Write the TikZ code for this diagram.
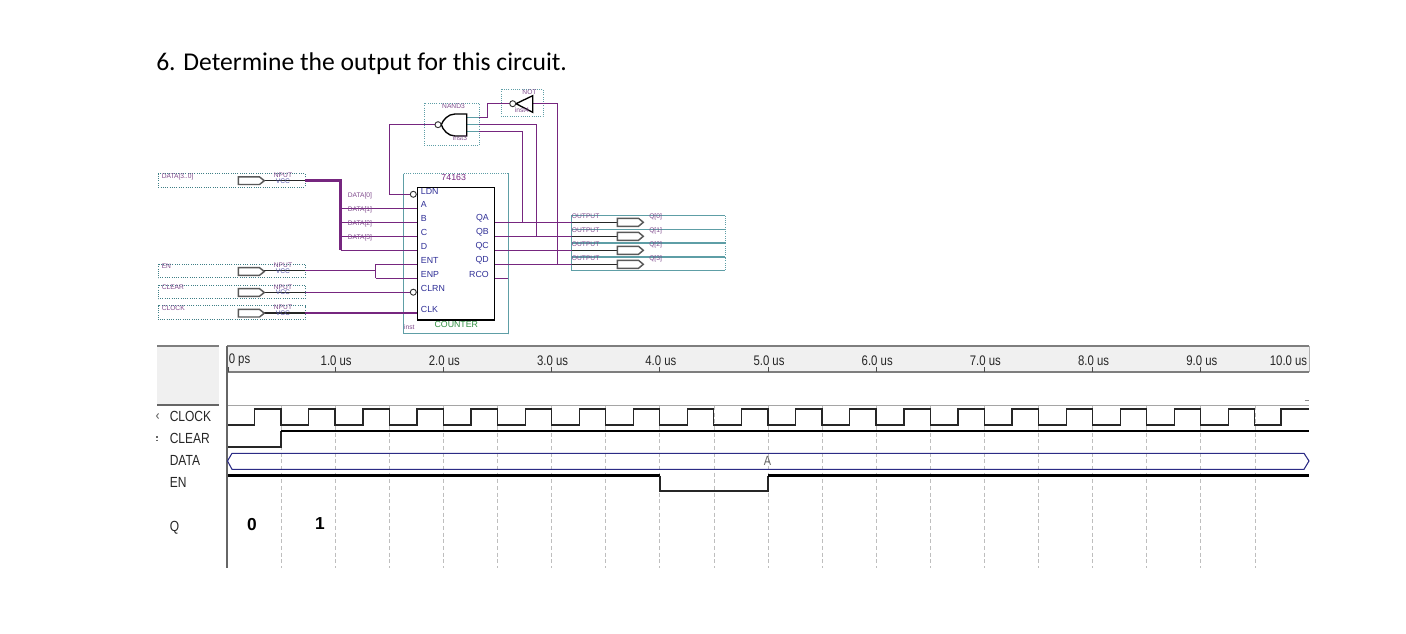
\documentclass[tikz,border=0pt]{standalone}
\usepackage{fontspec}
\setmainfont{Liberation Sans}
\newfontfamily\titlefont{Carlito}
\newfontfamily\wavefont[FakeStretch=0.82]{Liberation Sans}
\definecolor{wire}{HTML}{76267F}
\definecolor{tealbox}{HTML}{5E9EA6}
\definecolor{darkdot}{HTML}{3F7F86}
\definecolor{pinblue}{HTML}{2E2E96}
\definecolor{small}{HTML}{7F4A8C}
\definecolor{navy}{HTML}{2B2B85}
\definecolor{green2}{HTML}{2F8F3F}
\definecolor{headbg}{HTML}{F0F0F0}
\definecolor{headln}{HTML}{7E7E7E}
\definecolor{gridc}{HTML}{BEBEBE}
\tikzset{
  wirel/.style={draw=wire,line width=0.95pt},
  busl/.style={draw=wire,line width=2.4pt},
  blackl/.style={draw=black!85,line width=0.9pt},
  tealw/.style={draw=tealbox,line width=0.9pt},
  gatel/.style={draw=black,line width=1pt,fill=white},
  bub/.style={draw=black!80,line width=0.7pt,fill=white},
  pinl/.style={draw=black!65,line width=1.1pt,fill=white},
  dotbox/.style={draw=tealbox,line width=0.65pt,densely dotted},
  dotboxd/.style={draw=darkdot,line width=0.7pt,densely dotted},
  lbl/.style={inner sep=0pt,text=small,font=\fontsize{5}{5.5}\selectfont},
  vcc/.style={inner sep=0pt,text=pinblue!80,font=\fontsize{5}{5.5}\selectfont},
  pinlab/.style={inner sep=0pt,text=pinblue,font=\fontsize{6.6}{7}\selectfont},
  wave/.style={draw=black!85,line width=0.95pt},
  wavethick/.style={draw=black,line width=1.9pt},
  wavelab/.style={inner sep=0pt,anchor=west,text=black!85,font=\wavefont\fontsize{11}{12}\selectfont},
  headlab/.style={inner sep=0pt,text=black!85,font=\wavefont\fontsize{10.4}{12}\selectfont},
  val/.style={inner sep=0pt,font=\bfseries\fontsize{13}{14}\selectfont}
}
\begin{document}
\begin{tikzpicture}[x=0.75pt,y=-0.75pt]
\useasboundingbox (0,0) rectangle (1406,634);
% Title
\node[inner sep=0pt,anchor=base west,font=\titlefont\fontsize{19.2}{21}\selectfont] (title) at (156,71) {6. Determine the output for this circuit.};

% ---------- schematic: boxes
\draw[dotboxd] (158,173.7) rectangle (305,187);
\draw[dotboxd] (158,264) rectangle (305,277.7);
\draw[dotboxd] (158,285) rectangle (305,298.7);
\draw[dotboxd] (158,305.7) rectangle (305,319.7);
\draw[dotbox] (424.3,103.3) rectangle (479.3,145);
\draw[dotbox] (501.7,89.3) rectangle (543,116.7);
\draw[dotbox] (403.3,173.7) rectangle (508,333.7);
\draw[tealbox,line width=0.7pt] (403.3,173.7) -- (403.3,333.7) -- (508,333.7) -- (508,173.7);
\foreach \a/\b in {215.3/229.3,229.3/243,243/257,257/270.3}{
  \draw[dotbox] (571.7,\a) rectangle (725.3,\b);
}
\foreach \a in {215.3,229.3,243,257,270.3}{
  \draw[tealbox,line width=0.8pt] (571.7,\a) -- (725.3,\a);
}
\draw[tealbox,line width=0.6pt] (571.7,215.3) -- (571.7,270.3);

% ---------- named points
\coordinate (ldn) at (410.3,194.3);
\coordinate (pa) at (417.3,208.3);
\coordinate (pb) at (417.3,222.3);
\coordinate (pc) at (417.3,236.3);
\coordinate (pd) at (417.3,250.3);
\coordinate (pent) at (417.3,264.3);
\coordinate (penp) at (417.3,278.3);
\coordinate (pclrn) at (410.3,292.2);
\coordinate (pclk) at (417.3,313);
\coordinate (qa) at (494.7,222.3);
\coordinate (qb) at (494.7,236.3);
\coordinate (qc) at (494.7,250.3);
\coordinate (qd) at (494.7,264.3);
\coordinate (rco) at (494.7,278.3);
\coordinate (rcoend) at (508,278.3);
\coordinate (ina) at (305,180.7);
\coordinate (inen) at (305,270.7);
\coordinate (incl) at (305,292.2);
\coordinate (inck) at (305,313);
\coordinate (busc) at (340.7,180.7);
\coordinate (busa) at (340.7,208.3);
\coordinate (busb) at (340.7,222.3);
\coordinate (busd) at (340.7,236.3);
\coordinate (buse) at (340.7,250.3);
\coordinate (enj) at (375.7,270.7);
\coordinate (enu) at (375.7,264.3);
\coordinate (end) at (375.7,278.3);
\coordinate (ponr) at (264.3,180.7);
\coordinate (penr) at (264.3,270.7);
\coordinate (pclr) at (264.3,292.2);
\coordinate (pckr) at (264.3,313);
\coordinate (n1) at (466.7,117.7);
\coordinate (n2) at (466.7,124.7);
\coordinate (n3) at (466.7,131.7);
\coordinate (nout) at (435,124.7);
\coordinate (notin) at (532.7,103.7);
\coordinate (notout) at (509.7,103.7);
\coordinate (o1) at (571.7,222.3);
\coordinate (o2) at (571.7,236.3);
\coordinate (o3) at (571.7,250.3);
\coordinate (o4) at (571.7,264.3);
\coordinate (op1) at (617.3,222.3);
\coordinate (op2) at (617.3,236.3);
\coordinate (op3) at (617.3,250.3);
\coordinate (op4) at (617.3,264.3);

% ---------- wires
\draw[blackl] (ponr) -- (ina);
\draw[blackl] (penr) -- (inen);
\draw[blackl] (pclr) -- (incl);
\draw[blackl] (pckr) -- (inck);
\draw[busl] (ina) -- (busc) -- (buse);
\draw[wirel] (busa) -- (pa);
\draw[wirel] (busb) -- (pb);
\draw[wirel] (busd) -- (pc);
\draw[wirel] (buse) -- (pd);
\draw[wirel] (inen) -- (enj);
\draw[wirel] (enu) -- (end);
\draw[wirel] (enu) -- (pent);
\draw[wirel] (end) -- (penp);
\draw[wirel] (incl) -- (pclrn);
\draw[wirel] (inck) -- (pclk);
\draw[wirel] (nout) -| (389.3,194.3) -- (ldn);
\draw[wirel] (n1) -- (487.7,117.7) |- (notout);
\draw[wirel] (n2) -| (536.7,236.3);
\draw[wirel] (n3) -| (522.7,222.3);
\draw[wirel] (notin) -| (557.3,264.3);
\draw[tealw] (n1) -- (479.3,117.7);
\draw[tealw] (n2) -- (479.3,124.7);
\draw[tealw] (n3) -- (479.3,131.7);
\draw[wirel] (qa) -- (o1);
\draw[wirel] (qb) -- (o2);
\draw[wirel] (qc) -- (o3);
\draw[wirel] (qd) -- (o4);
\draw[wirel] (rco) -- (rcoend);
\draw[blackl] (o1) -- (op1);
\draw[blackl] (o2) -- (op2);
\draw[blackl] (o3) -- (op3);
\draw[blackl] (o4) -- (op4);

% ---------- pin symbols
\foreach \y in {180.7,271.5,292.5,313.2}{
  \draw[pinl] (238.3,\y-3.8) -- (259.5,\y-3.8) -- (264.3,\y) -- (259.5,\y+3.8) -- (238.3,\y+3.8) -- cycle;
}
\foreach \y in {222.3,236.3,250.3,264.3}{
  \draw[pinl] (617.3,\y-4) -- (638.5,\y-4) -- (643.3,\y) -- (638.5,\y+4) -- (617.3,\y+4) -- cycle;
}

% ---------- gates
\draw[gatel] (466.7,114) -- (455,114) .. controls (448,114) and (443,120) .. (441.3,124.7) .. controls (443,130) and (448,136) .. (455,136) -- (466.7,136) -- cycle;
\draw[bub] (438,124.7) circle (3);
\draw[gatel] (532.7,95.7) -- (516,103.7) -- (532.7,112.3) -- cycle;
\draw[bub] (512.7,103.7) circle (3);

% ---------- counter
\draw[gatel,fill=none] (417.3,187.3) rectangle (494.7,320);
\draw[bub] (413.3,194.3) circle (3);
\draw[bub] (413.3,292.2) circle (3);

% ---------- schematic text
\node[inner sep=0pt,text=wire,font=\fontsize{6.6}{7}\selectfont] (t74163) at (453.7,177.7) {74163};
\node[inner sep=0pt,text=green2,font=\fontsize{6.6}{7}\selectfont] (tcounter) at (456.3,324.3) {COUNTER};
\node[lbl] (tinst) at (409.3,326.7) {inst};
\node[pinlab,anchor=west] (lLDN) at (420.7,191) {LDN};
\node[pinlab,anchor=west] (lA) at (420.7,204.3) {A};
\node[pinlab,anchor=west] (lB) at (420.7,218.3) {B};
\node[pinlab,anchor=west] (lC) at (420.7,232.5) {C};
\node[pinlab,anchor=west] (lD) at (420.7,246.3) {D};
\node[pinlab,anchor=west] (lENT) at (420.7,260.3) {ENT};
\node[pinlab,anchor=west] (lENP) at (420.7,274.3) {ENP};
\node[pinlab,anchor=west] (lCLRN) at (420.7,288.3) {CLRN};
\node[pinlab,anchor=west] (lCLK) at (420.7,309.3) {CLK};
\node[pinlab,anchor=east] (lQA) at (489,218.3) {QA};
\node[pinlab,anchor=east] (lQB) at (489,232.3) {QB};
\node[pinlab,anchor=east] (lQC) at (489,246.3) {QC};
\node[pinlab,anchor=east] (lQD) at (489,260.3) {QD};
\node[pinlab,anchor=east] (lRCO) at (489,274.3) {RCO};
\node[lbl] (tnand) at (453.5,106) {NAND3};
\node[lbl] (tinst3) at (460,138.5) {inst3};
\node[lbl] (tnot) at (529.5,92) {NOT};
\node[lbl] (tinst4) at (522,110) {inst4};
\node[lbl,anchor=west] (dall) at (161.5,176.5) {DATA[3..0]};
\node[lbl,anchor=west] (den) at (161.5,266.7) {EN};
\node[lbl,anchor=west] (dcl) at (161.5,287) {CLEAR};
\node[lbl,anchor=west] (dck) at (161.5,308) {CLOCK};
\foreach \n/\a/\b in {a/175.3/181.7,b/265.7/271.7,c/286.8/292.7,d/307/313.7}{
  \node[lbl] (np\n) at (283,\a) {NPUT};
  \node[vcc] (vc\n) at (283,\b) {VCC};
}
\foreach \i/\y in {0/196,1/210,2/224,3/238}{
  \node[lbl,anchor=west] (dd\i) at (347.5,\y) {DATA[\i]};
}
\foreach \i/\y in {0/216.7,1/230.7,2/244.5,3/258.3}{
  \node[lbl,anchor=west] (oo\i) at (571.7,\y) {OUTPUT};
  \node[lbl,anchor=west] (qq\i) at (649,\y) {Q[\i]};
}

% ---------- waveform frame
\fill[headbg] (157,346) rectangle (219,405);
\fill[headbg] (227,346) rectangle (1309,372);
\draw[headln,line width=1.3pt] (157,346) -- (219,346);
\draw[headln,line width=1.3pt] (227,346) -- (1309,346);
\draw[headln,line width=0.8pt] (227,372) -- (1309,372);
\draw[headln!60,line width=0.7pt] (1309,346) -- (1309,372);
\draw[black!60,line width=0.9pt] (157,405) -- (219,405);
\draw[headln!70,line width=0.8pt] (227,405.5) -- (1309,405.5);

% grid
\foreach \k in {1,...,19}{
  \draw[gridc,line width=0.55pt,densely dashed] ({227+54.1*\k},406) -- ({227+54.1*\k},568);
}
% left edge
\draw[black!60,line width=1.3pt] (227,346) -- (227,568);

% ticks and labels
\foreach \k in {1,...,9}{
  \draw[black!70,line width=0.6pt] ({227+108.2*\k},367) -- ({227+108.2*\k},372);
}
\draw[black!70,line width=0.6pt] (228,367) -- (228,372);
\node[headlab] (h0) at (239.5,360.5) {0 ps};
\foreach \k in {1,...,9}{
  \node[headlab] (h\k) at ({228+108.2*\k},360.5) {\k.0 us};
}
\node[headlab] (h10) at (1288.5,360.5) {10.0 us};

% waveforms
\draw[wave] (228,425)
  \foreach \k in {0,...,18}{
    -- ({254.7+54.1*\k},425) -- ({254.7+54.1*\k},409) -- ({281+54.1*\k},409) -- ({281+54.1*\k},425)
  }
  -- (1281,425) -- (1281,409) -- (1309,409);
\draw[wave] (228,447) -- (281,447) -- (281,431);
\draw[wavethick] (281,431) -- (1309,431);
\draw[navy,line width=0.8pt] (227.5,461) -- (232,453.3) -- (1304,453.3) -- (1309,461) -- (1304,469.3) -- (232,469.3) -- cycle;
\draw[wavethick] (228,475.7) -- (660,475.7);
\draw[wave] (660,475.7) -- (660,491) -- (768,491) -- (768,475.7);
\draw[wavethick] (768,475.7) -- (1309,475.7);

% wave labels
\node[wavelab] (wclock) at (169.5,416.7) {CLOCK};
\node[wavelab] (wclear) at (169.5,438.7) {CLEAR};
\node[wavelab] (wdata) at (169.5,460.7) {DATA};
\node[wavelab] (wen) at (169.5,482.7) {EN};
\node[wavelab] (wq) at (169.5,527.7) {Q};
\node[inner sep=0pt,text=black!60,font=\wavefont\fontsize{10}{11}\selectfont] (wa) at (767.5,460.5) {A};
\node[val] (v0) at (252,525) {0};
\node[val] (v1) at (320,524) {1};

% clipped marks
\draw[black!60,line width=0.7pt] (158.5,413.5) -- (156.5,416) -- (158.5,418.5);
\draw[black!60,line width=0.9pt] (157,436) -- (157,437.5) (157,439.5) -- (157,441);
\draw[black!45,line width=0.8pt] (1304.5,400.5) -- (1308.5,400.5);
\end{tikzpicture}
\end{document}
